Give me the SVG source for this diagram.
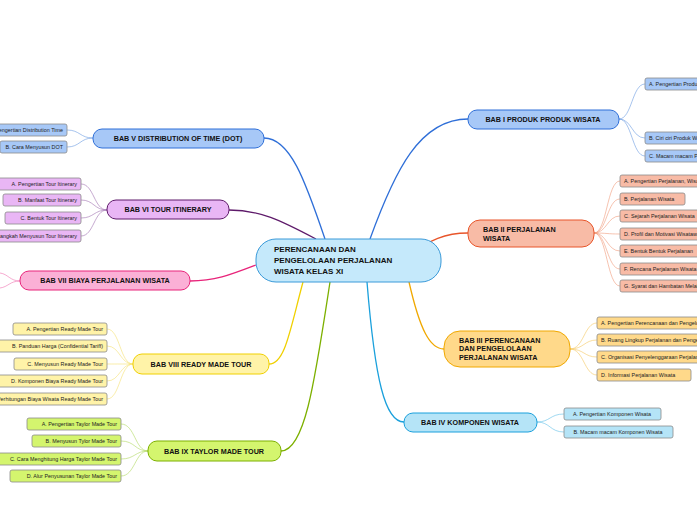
<svg xmlns="http://www.w3.org/2000/svg" width="697" height="520" viewBox="0 0 697 520">
<style>
text{font-family:"Liberation Sans",Arial,sans-serif}
.b{font-size:7.2px;font-weight:bold;fill:#111}
.l{font-size:5.4px;fill:#222;text-anchor:middle}
.c{fill:none;stroke-width:1.3}
.t{fill:none;stroke-width:0.6}
.lf{stroke:#8a8a8a;stroke-width:0.8}
</style>
<rect width="697" height="520" fill="#fff"/>
<g id="connectors">
<path class="c" stroke="#2f6fd8" d="M370,239 C395,170 420,119 468,119"/>
<path class="c" stroke="#e8552a" d="M409,255 C430,240 445,233 468,233"/>
<path class="c" stroke="#f0a800" d="M409,282 C420,330 430,349 444,349"/>
<path class="c" stroke="#1aa0dc" d="M367,282 C375,380 385,422 404,422"/>
<path class="c" stroke="#2f6fd8" d="M325,239 C305,180 290,138 264,138"/>
<path class="c" stroke="#5e1a6a" d="M316,239 C280,220 260,210 229,210"/>
<path class="c" stroke="#e8247a" d="M256,265 C230,275 215,281 190,281"/>
<path class="c" stroke="#f0d000" d="M303,282 C290,330 285,364 269,364"/>
<path class="c" stroke="#7db000" d="M330,282 C315,380 305,451 281,451"/>
<g stroke="#6a9be0" class="t"><path d="M619,119 C632,119 632,84 645,84"/><path d="M619,119 C632,119 632,138 645,138"/><path d="M619,119 C632,119 632,156 645,156"/></g>
<g stroke="#f09a7a" class="t"><path d="M594,233 C607,233 607,181 620,181"/><path d="M594,233 C607,233 607,199 620,199"/><path d="M594,233 C607,233 607,216 620,216"/><path d="M594,233 C607,233 607,234 620,234"/><path d="M594,233 C607,233 607,251 620,251"/><path d="M594,233 C607,233 607,269 620,269"/><path d="M594,233 C607,233 607,286 620,286"/></g>
<g stroke="#f5c860" class="t"><path d="M570,349 C584,349 584,323 597,323"/><path d="M570,349 C584,349 584,340 597,340"/><path d="M570,349 C584,349 584,357 597,357"/><path d="M570,349 C584,349 584,375 597,375"/></g>
<g stroke="#60c0e8" class="t"><path d="M537,422 C550,422 550,414 564,414"/><path d="M537,422 C550,422 550,432 564,432"/></g>
<g stroke="#6a9be0" class="t"><path d="M93,138 C80,138 80,130 67,130"/><path d="M93,138 C80,138 80,147 67,147"/></g>
<g stroke="#a070b0" class="t"><path d="M107,210 C94,210 94,184 81,184"/><path d="M107,210 C94,210 94,200 81,200"/><path d="M107,210 C94,210 94,218 81,218"/><path d="M107,210 C94,210 94,236 81,236"/></g>
<g stroke="#f070b0" class="t"><path d="M20,281 C10,281 8,274 0,273"/><path d="M20,281 C10,281 8,287 0,288"/></g>
<g stroke="#f5e070" class="t"><path d="M133,364 C120,364 120,329 107,329"/><path d="M133,364 C120,364 120,346 107,346"/><path d="M133,364 C120,364 120,364 107,364"/><path d="M133,364 C120,364 120,381 107,381"/><path d="M133,364 C120,364 120,399 107,399"/></g>
<g stroke="#b0d860" class="t"><path d="M148,451 C135,451 135,424 121,424"/><path d="M148,451 C135,451 135,441 121,441"/><path d="M148,451 C135,451 135,459 121,459"/><path d="M148,451 C135,451 135,476 121,476"/></g>
</g>
<g id="center"><rect x="256" y="239" width="185" height="43" rx="20" fill="#c5e9fb" stroke="#3a9ad9"/>
<text class="b" x="274" y="252" style="font-size:8px">PERENCANAAN DAN</text><text class="b" x="274" y="263" style="font-size:8px">PENGELOLAAN PERJALANAN</text><text class="b" x="274" y="274" style="font-size:8px">WISATA KELAS XI</text></g>
<g id="bab1"><rect x="468" y="110" width="151" height="19" rx="9" fill="#a7c8f7" stroke="#2f6fd8"/><text class="b" x="543" y="122" text-anchor="middle">BAB I PRODUK PRODUK WISATA</text>
<g fill="#a7c8f7" class="lf"><rect x="645" y="78" width="70" height="12" rx="2"/><rect x="645" y="132" width="70" height="12" rx="2"/><rect x="645" y="150" width="70" height="12" rx="2"/></g>
<text class="l" x="649" y="86" text-anchor="start" style="text-anchor:start">A. Pengertian Produk Wisata</text><text class="l" x="649" y="140" style="text-anchor:start">B. Ciri ciri Produk Wisata</text><text class="l" x="649" y="158" style="text-anchor:start">C. Macam macam Produk Wisata</text></g>
<g id="bab2"><rect x="468" y="220" width="126" height="27" rx="12" fill="#f8bba6" stroke="#e8552a"/><text class="b" x="483" y="232">BAB II PERJALANAN</text><text class="b" x="483" y="241">WISATA</text>
<g fill="#f8bba6" class="lf"><rect x="620" y="175" width="90" height="12" rx="2"/><rect x="620" y="193" width="65" height="12" rx="2"/><rect x="620" y="210" width="90" height="12" rx="2"/><rect x="620" y="228" width="90" height="12" rx="2"/><rect x="620" y="245" width="90" height="12" rx="2"/><rect x="620" y="263" width="90" height="12" rx="2"/><rect x="620" y="280" width="90" height="12" rx="2"/></g>
<g class="l" style="text-anchor:start"><text x="624" y="183">A. Pengertian Perjalanan, Wisata</text><text x="624" y="201">B. Perjalanan Wisata</text><text x="624" y="218">C. Sejarah Perjalanan Wisata</text><text x="624" y="236">D. Profil dan Motivasi Wisatawan</text><text x="624" y="253">E. Bentuk Bentuk Perjalanan</text><text x="624" y="271">F. Rencana Perjalanan Wisata</text><text x="624" y="288">G. Syarat dan Hambatan Melakukan</text></g></g>
<g id="bab3"><rect x="444" y="331" width="126" height="36" rx="16" fill="#ffd98a" stroke="#f0a800"/><text class="b" x="459" y="343">BAB III PERENCANAAN</text><text class="b" x="459" y="351">DAN PENGELOLAAN</text><text class="b" x="459" y="360">PERJALANAN WISATA</text>
<g fill="#ffd98a" class="lf"><rect x="597" y="317" width="110" height="12" rx="2"/><rect x="597" y="334" width="110" height="12" rx="2"/><rect x="597" y="351" width="110" height="12" rx="2"/><rect x="597" y="369" width="94" height="12" rx="2"/></g>
<g class="l" style="text-anchor:start"><text x="601" y="325">A. Pengertian Perencanaan dan Pengelolaan</text><text x="601" y="342">B. Ruang Lingkup Perjalanan dan Pengelolaan</text><text x="601" y="359">C. Organisasi Penyelenggaraan Perjalanan</text><text x="601" y="377">D. Informasi Perjalanan Wisata</text></g></g>
<g id="bab4"><rect x="404" y="413" width="133" height="19" rx="9" fill="#b5e4f7" stroke="#1aa0dc"/><text class="b" x="470" y="425" text-anchor="middle">BAB IV KOMPONEN WISATA</text>
<g fill="#b5e4f7" class="lf"><rect x="564" y="408" width="97" height="12" rx="2"/><rect x="564" y="426" width="109" height="12" rx="2"/></g>
<text class="l" x="612" y="416">A. Pengertian Komponen Wisata</text><text class="l" x="618" y="434">B. Macam macam Komponen Wisata</text></g>
<g id="bab5"><rect x="93" y="129" width="171" height="19" rx="9" fill="#a7c8f7" stroke="#2f6fd8"/><text class="b" x="178" y="141" text-anchor="middle">BAB V DISTRIBUTION OF TIME (DOT)</text>
<g fill="#a7c8f7" class="lf"><rect x="-10" y="124" width="77" height="12" rx="2"/><rect x="0" y="141" width="67" height="12" rx="2"/></g>
<g class="l" style="text-anchor:end"><text x="63" y="132">A. Pengertian Distribution Time</text><text x="63" y="149">B. Cara Menyusun DOT</text></g></g>
<g id="bab6"><rect x="107" y="200" width="122" height="19" rx="9" fill="#e9b6f5" stroke="#5e1a6a"/><text class="b" x="168" y="212" text-anchor="middle">BAB VI TOUR ITINERARY</text>
<g fill="#e9b6f5" class="lf"><rect x="-4" y="178" width="85" height="12" rx="2"/><rect x="3" y="194" width="78" height="12" rx="2"/><rect x="5" y="212" width="76" height="12" rx="2"/><rect x="-10" y="230" width="91" height="12" rx="2"/></g>
<g class="l" style="text-anchor:end"><text x="77" y="186">A. Pengertian Tour Itinerary</text><text x="77" y="202">B. Manfaat Tour Itinerary</text><text x="77" y="220">C. Bentuk Tour Itinerary</text><text x="77" y="238">D. Langkah Menyusun Tour Itinerary</text></g></g>
<g id="bab7"><rect x="20" y="271" width="170" height="19" rx="9" fill="#fbb0d6" stroke="#e8247a"/><text class="b" x="105" y="283" text-anchor="middle">BAB VII BIAYA PERJALANAN WISATA</text></g>
<g id="bab8"><rect x="133" y="354" width="136" height="20" rx="9" fill="#fff3a8" stroke="#f0d000"/><text class="b" x="201" y="367" text-anchor="middle">BAB VIII READY MADE TOUR</text>
<g fill="#fff3a8" class="lf"><rect x="13" y="323" width="94" height="12" rx="2"/><rect x="-5" y="340" width="112" height="12" rx="2"/><rect x="14" y="358" width="93" height="12" rx="2"/><rect x="-5" y="375" width="112" height="12" rx="2"/><rect x="-10" y="393" width="117" height="12" rx="2"/></g>
<g class="l" style="text-anchor:end"><text x="103" y="331">A. Pengertian Ready Made Tour</text><text x="103" y="348">B. Panduan Harga (Confidential Tariff)</text><text x="103" y="366">C. Menyusun Ready Made Tour</text><text x="103" y="383">D. Komponen Biaya Ready Made Tour</text><text x="103" y="401">E. Perhitungan Biaya Wisata Ready Made Tour</text></g></g>
<g id="bab9"><rect x="148" y="441" width="133" height="20" rx="9" fill="#d4f56e" stroke="#7db000"/><text class="b" x="214" y="454" text-anchor="middle">BAB IX TAYLOR MADE TOUR</text>
<g fill="#d4f56e" class="lf"><rect x="27" y="418" width="94" height="12" rx="2"/><rect x="32" y="435" width="89" height="12" rx="2"/><rect x="-5" y="453" width="126" height="12" rx="2"/><rect x="10" y="470" width="111" height="12" rx="2"/></g>
<g class="l" style="text-anchor:end"><text x="117" y="426">A. Pengertian Taylor Made Tour</text><text x="117" y="443">B. Menyusun Tylor Made Tour</text><text x="117" y="461">C. Cara Menghitung Harga Taylor Made Tour</text><text x="117" y="478">D. Alur Penyusunan Taylor Made Tour</text></g></g>
</svg>
